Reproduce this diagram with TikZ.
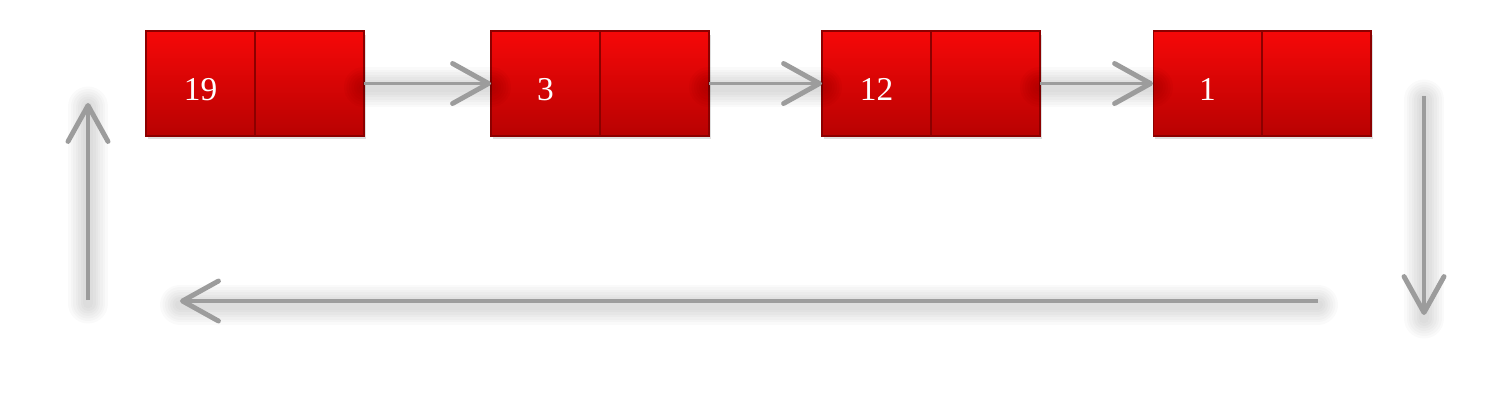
\documentclass[tikz,border=0pt]{standalone}
\usepackage{fontspec}
\setmainfont{Liberation Serif}
\usetikzlibrary{arrows.meta, shadows}

% Define colors
\definecolor{celltop}{HTML}{F60808}
\definecolor{cellbottom}{HTML}{B80202}
\definecolor{cellline}{HTML}{8C0000}
\definecolor{silver}{HTML}{9C9C9C}

\begin{document}
\begin{tikzpicture}[x=0.02cm, y=-0.02cm]

% Define the cell size
\def\cellwidth{2.18}
\def\cellheight{2.1}
\def\rowy{83.5}

\tikzset{
  cell/.style={draw=cellline, line width=0.6pt, top color=celltop, bottom color=cellbottom,
    minimum width=\cellwidth cm, minimum height=\cellheight cm, inner sep=0pt, outer sep=0pt,
    drop shadow={opacity=0.25, shadow xshift=0.04cm, shadow yshift=-0.07cm},
    text=white, font=\fontsize{19}{22}\selectfont, text height=0.66cm, text depth=0pt},
  link/.style={draw=silver, line width=2.2pt,
    -{Straight Barb[length=0.72cm, width=0.8cm, line width=2.8pt, round]}},
  glow/.style={draw=black, opacity=0.018, line cap=round},
}

\useasboundingbox (0,0) rectangle (1510,407);

% Free ends of the return path
\coordinate (downtop) at (1424,96);
\coordinate (downend) at (1424,315);
\coordinate (backstart) at (1318,301);
\coordinate (backend) at (180,301);
\coordinate (upstart) at (88,300);
\coordinate (upend) at (88,103);

% Draw the list cells: data cell and pointer cell
\foreach \val/\lx [count=\k] in {19/146, 3/491, 12/822, 1/1153} {
    \node[cell] (d\k) at (\lx+54.5, \rowy) {\val};
    \node[cell] (p\k) at (\lx+163.5, \rowy) {};
}

% Soft glow under the arrows
\foreach \w in {0.2, 0.3, ..., 0.9} {
    \foreach \i/\j in {1/2, 2/3, 3/4} {
        \draw[glow, line width=\w cm] ([yshift=-2pt]p\i.east) -- ([yshift=-2pt]d\j.west);
    }
    \draw[glow, line width=\w cm] ([yshift=-2pt]downtop) -- ([yshift=-2pt]downend);
    \draw[glow, line width=\w cm] ([yshift=-2pt]backstart) -- ([yshift=-2pt]backend);
    \draw[glow, line width=\w cm] ([yshift=-2pt]upstart) -- ([yshift=-2pt]upend);
}

% Draw the links
\foreach \i/\j in {1/2, 2/3, 3/4} {
    \draw[link] (p\i.east) -- (d\j.west);
}
\draw[link] (downtop) -- (downend);
\draw[link] (backstart) -- (backend);
\draw[link] (upstart) -- (upend);

\end{tikzpicture}
\end{document}
